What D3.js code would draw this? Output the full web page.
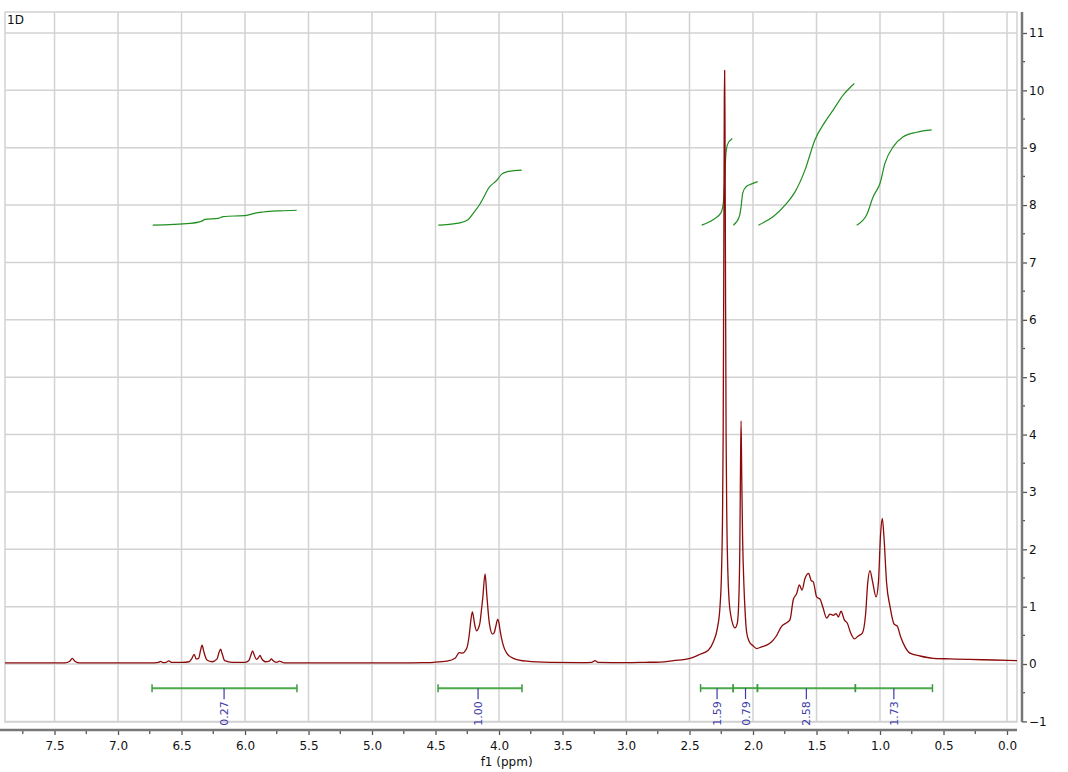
<!DOCTYPE html>
<html>
<head>
<meta charset="utf-8">
<script src="https://cdn.jsdelivr.net/npm/d3@7/dist/d3.min.js"></script>
<style>
  html, body { margin: 0; padding: 0; background: #fff; }
  svg { display: block; }
  text { font-family: "DejaVu Sans", Verdana, sans-serif; }
</style>
</head>
<body>
<svg id="chart" width="1068" height="772"></svg>
<script>
// ---------- DATA ----------
const xTicks = [7.5, 7.0, 6.5, 6.0, 5.5, 5.0, 4.5, 4.0, 3.5, 3.0, 2.5, 2.0, 1.5, 1.0, 0.5, 0.0];
const yTicks = [-1, 0, 1, 2, 3, 4, 5, 6, 7, 8, 9, 10, 11];

// spectrum: [ppm, intensity]
const spectrum = [
  [7.89,0.02],[7.6,0.02],[7.42,0.02],[7.38,0.05],[7.36,0.10],[7.34,0.05],[7.30,0.02],
  [7.0,0.02],[6.75,0.02],[6.68,0.03],[6.665,0.045],[6.645,0.025],[6.62,0.03],[6.60,0.055],[6.58,0.03],
  [6.5,0.03],[6.44,0.04],[6.42,0.09],[6.40,0.17],[6.385,0.09],[6.365,0.10],[6.35,0.24],[6.338,0.33],
  [6.325,0.22],[6.30,0.07],[6.26,0.04],[6.22,0.09],[6.205,0.20],[6.192,0.26],[6.18,0.18],[6.16,0.06],
  [6.10,0.03],[6.00,0.03],[5.97,0.06],[5.953,0.16],[5.94,0.23],[5.928,0.16],[5.91,0.08],[5.895,0.11],
  [5.882,0.15],[5.87,0.10],[5.84,0.04],[5.81,0.05],[5.792,0.09],[5.78,0.06],[5.75,0.03],[5.73,0.05],
  [5.715,0.04],[5.69,0.02],[5.5,0.02],[5.0,0.02],[4.78,0.02],[4.6,0.025],[4.517,0.03],[4.41,0.05],
  [4.346,0.10],[4.313,0.20],[4.29,0.19],[4.255,0.27],[4.236,0.48],[4.223,0.74],[4.21,0.91],[4.198,0.78],
  [4.189,0.66],[4.177,0.58],[4.163,0.62],[4.15,0.72],[4.138,0.95],[4.128,1.15],[4.11,1.57],[4.096,1.20],
  [4.085,0.90],[4.076,0.71],[4.05,0.52],[4.036,0.56],[4.026,0.65],[4.01,0.78],[3.999,0.70],[3.992,0.59],
  [3.971,0.36],[3.94,0.19],[3.887,0.10],[3.782,0.05],[3.6,0.03],[3.35,0.025],[3.27,0.03],[3.245,0.06],
  [3.22,0.03],[3.0,0.025],[2.85,0.03],[2.732,0.035],[2.627,0.06],[2.496,0.10],[2.417,0.17],[2.352,0.24],
  [2.312,0.39],[2.281,0.62],[2.26,1.0],[2.248,1.6],[2.24,2.6],[2.235,4.0],[2.23,7.0],[2.226,9.8],
  [2.2235,10.35],[2.221,9.6],[2.217,7.0],[2.212,4.0],[2.206,2.5],[2.198,1.6],[2.188,1.1],[2.175,0.85],
  [2.16,0.70],[2.142,0.63],[2.124,0.71],[2.112,1.1],[2.104,2.0],[2.099,3.3],[2.094,4.24],[2.089,3.3],
  [2.082,2.2],[2.072,1.4],[2.062,0.9],[2.05,0.55],[2.029,0.39],[2.0,0.32],[1.971,0.27],[1.932,0.30],
  [1.892,0.33],[1.853,0.39],[1.819,0.48],[1.774,0.66],[1.735,0.72],[1.709,0.77],[1.683,1.12],[1.656,1.23],
  [1.635,1.38],[1.614,1.29],[1.591,1.49],[1.562,1.58],[1.543,1.46],[1.525,1.43],[1.499,1.17],[1.472,1.13],
  [1.451,1.00],[1.420,0.80],[1.394,0.87],[1.368,0.85],[1.346,0.88],[1.328,0.82],[1.307,0.92],[1.281,0.77],
  [1.257,0.71],[1.231,0.54],[1.202,0.44],[1.171,0.49],[1.139,0.54],[1.113,0.88],[1.097,1.41],[1.079,1.63],
  [1.058,1.43],[1.031,1.17],[1.013,1.41],[0.995,2.28],[0.982,2.54],[0.969,2.22],[0.948,1.41],[0.921,1.00],
  [0.890,0.70],[0.864,0.66],[0.837,0.47],[0.803,0.30],[0.764,0.19],[0.685,0.14],[0.580,0.10],[0.449,0.09],
  [0.3,0.08],[0.1,0.07],[-0.079,0.06]
];

// integral curves: [ppm, y]
const integral1 = [[6.727,7.65],[6.433,7.68],[6.341,7.72],[6.315,7.75],[6.21,7.77],[6.171,7.80],[5.987,7.82],[5.921,7.86],[5.856,7.88],[5.724,7.90],[5.593,7.91]];
const integral2 = [[4.478,7.65],[4.333,7.68],[4.242,7.75],[4.202,7.86],[4.15,8.02],[4.11,8.18],[4.084,8.29],[4.018,8.43],[3.979,8.54],[3.94,8.58],[3.821,8.61]];
const integral3 = [[2.404,7.65],[2.312,7.75],[2.254,7.86],[2.234,8.03],[2.223,8.44],[2.215,8.84],[2.202,9.05],[2.163,9.16]];
const integral4 = [[2.155,7.65],[2.108,7.80],[2.094,7.97],[2.081,8.21],[2.055,8.32],[2.01,8.37],[1.963,8.41]];
const integral5 = [[1.958,7.65],[1.84,7.80],[1.748,8.00],[1.669,8.23],[1.591,8.61],[1.512,9.14],[1.433,9.45],[1.368,9.66],[1.289,9.92],[1.202,10.12]];
const integral6 = [[1.184,7.65],[1.105,7.83],[1.053,8.15],[1.0,8.38],[0.961,8.73],[0.895,9.02],[0.817,9.19],[0.711,9.27],[0.593,9.31]];

// integration ranges, values and label positions
const rangeFrom   = [6.732, 4.480, 2.413, 2.156, 1.965, 1.194];
const rangeTo     = [5.591, 3.819, 2.156, 1.965, 1.194, 0.587];
const rangeValues = ["0.27", "1.00", "1.59", "0.79", "2.58", "1.73"];
const labelPpm    = [6.165, 4.165, 2.283, 2.059, 1.580, 0.891];

// ---------- DRAWING ----------
const svg = d3.select("#chart");
const L = 5, R = 1017, T = 12, B = 722;
const x = d3.scaleLinear().domain([7.89, -0.0787]).range([L, R]);
const y = d3.scaleLinear().domain([-1, 11]).range([721.4, 33]);

const gridColor = "#d2d2d2";
const grid = svg.append("g");
grid.selectAll("line.v").data(xTicks).join("line")
  .attr("x1", d => x(d)).attr("x2", d => x(d)).attr("y1", T).attr("y2", B)
  .attr("stroke", gridColor).attr("stroke-width", 1.5);
grid.selectAll("line.h").data(yTicks).join("line")
  .attr("x1", L).attr("x2", R).attr("y1", d => y(d)).attr("y2", d => y(d))
  .attr("stroke", gridColor).attr("stroke-width", 1.5);
svg.append("rect").attr("x", L).attr("y", T).attr("width", R - L).attr("height", B - T)
  .attr("fill", "none").attr("stroke", gridColor).attr("stroke-width", 1.5);

svg.append("defs").append("clipPath").attr("id", "clip")
  .append("rect").attr("x", L).attr("y", T).attr("width", R - L).attr("height", B - T);

const plot = svg.append("g").attr("clip-path", "url(#clip)");

// integral curves
const iline = d3.line().x(d => x(d[0])).y(d => y(d[1])).curve(d3.curveMonotoneX);
[integral1, integral2, integral3, integral4, integral5, integral6].forEach(arr => {
  plot.append("path").datum(arr).attr("d", iline)
    .attr("fill", "none").attr("stroke", "#1f8f1f").attr("stroke-width", 1.2);
});

// spectrum
const sline = d3.line().x(d => x(d[0])).y(d => y(d[1])).curve(d3.curveMonotoneX);
plot.append("path").datum(spectrum).attr("d", sline)
  .attr("fill", "none").attr("stroke", "#8b0a0a").attr("stroke-width", 1.3)
  .attr("stroke-linejoin", "round");

// integration bars
const barY = y(-0.42);
const barG = svg.append("g");
rangeFrom.forEach((f, i) => {
  const t = rangeTo[i];
  barG.append("line").attr("x1", x(f)).attr("x2", x(t)).attr("y1", barY).attr("y2", barY)
    .attr("stroke", "#4caa4c").attr("stroke-width", 2);
  [f, t].forEach(p => {
    barG.append("line").attr("x1", x(p)).attr("x2", x(p)).attr("y1", barY - 4).attr("y2", barY + 4)
      .attr("stroke", "#3c9c3c").attr("stroke-width", 1.5);
  });
  const lx = x(labelPpm[i]);
  barG.append("line").attr("x1", lx).attr("x2", lx).attr("y1", barY).attr("y2", barY + 11)
    .attr("stroke", "#3a3aa8").attr("stroke-width", 1.2);
  barG.append("text").attr("transform", `translate(${lx + 4},${barY + 13}) rotate(-90)`)
    .attr("text-anchor", "end").attr("font-size", 11).attr("fill", "#3a3aa8")
    .text(rangeValues[i]);
});

// bottom axis
const axisY = 730;
const xAxis = d3.axisBottom(x).tickValues(xTicks).tickSize(5).tickPadding(6)
  .tickFormat(d3.format(".1f"));
const gx = svg.append("g").attr("transform", `translate(0,${axisY})`).call(xAxis);
gx.select(".domain").remove();
gx.selectAll(".tick line").attr("stroke", "#555").attr("stroke-width", 1.3);
gx.selectAll(".tick text").attr("font-size", 12).attr("fill", "#111")
  .attr("font-family", "DejaVu Sans, Verdana, sans-serif");
const minorX = d3.range(7.75, -0.1, -0.5);
gx.selectAll("line.minor").data(minorX).join("line").attr("class", "minor")
  .attr("x1", d => x(d)).attr("x2", d => x(d)).attr("y1", 0).attr("y2", 4)
  .attr("stroke", "#555").attr("stroke-width", 1.3);
gx.append("line").attr("x1", 0).attr("x2", R).attr("y1", 0).attr("y2", 0)
  .attr("stroke", "#777").attr("stroke-width", 2.5);
svg.append("text").attr("x", x(3.94)).attr("y", 766).attr("text-anchor", "middle")
  .attr("font-size", 12).attr("fill", "#111").text("f1 (ppm)");

// right axis
const axisX = 1022;
const yAxis = d3.axisRight(y).tickValues(yTicks).tickSize(5).tickPadding(2)
  .tickFormat(d3.format("d"));
const gy = svg.append("g").attr("transform", `translate(${axisX},0)`).call(yAxis);
gy.select(".domain").remove();
gy.selectAll(".tick line").attr("stroke", "#555").attr("stroke-width", 1.3);
gy.selectAll(".tick text").attr("font-size", 12).attr("fill", "#111")
  .attr("font-family", "DejaVu Sans, Verdana, sans-serif");
const minorY = d3.range(-0.5, 11, 1);
gy.selectAll("line.minor").data(minorY).join("line").attr("class", "minor")
  .attr("x1", 0).attr("x2", 3).attr("y1", d => y(d)).attr("y2", d => y(d))
  .attr("stroke", "#555").attr("stroke-width", 1.3);
gy.append("line").attr("x1", 0).attr("x2", 0).attr("y1", T).attr("y2", B)
  .attr("stroke", "#777").attr("stroke-width", 2.5);

// 1D label
svg.append("text").attr("x", 7).attr("y", 24).attr("font-size", 12).attr("fill", "#111").text("1D");
</script>
</body>
</html>
